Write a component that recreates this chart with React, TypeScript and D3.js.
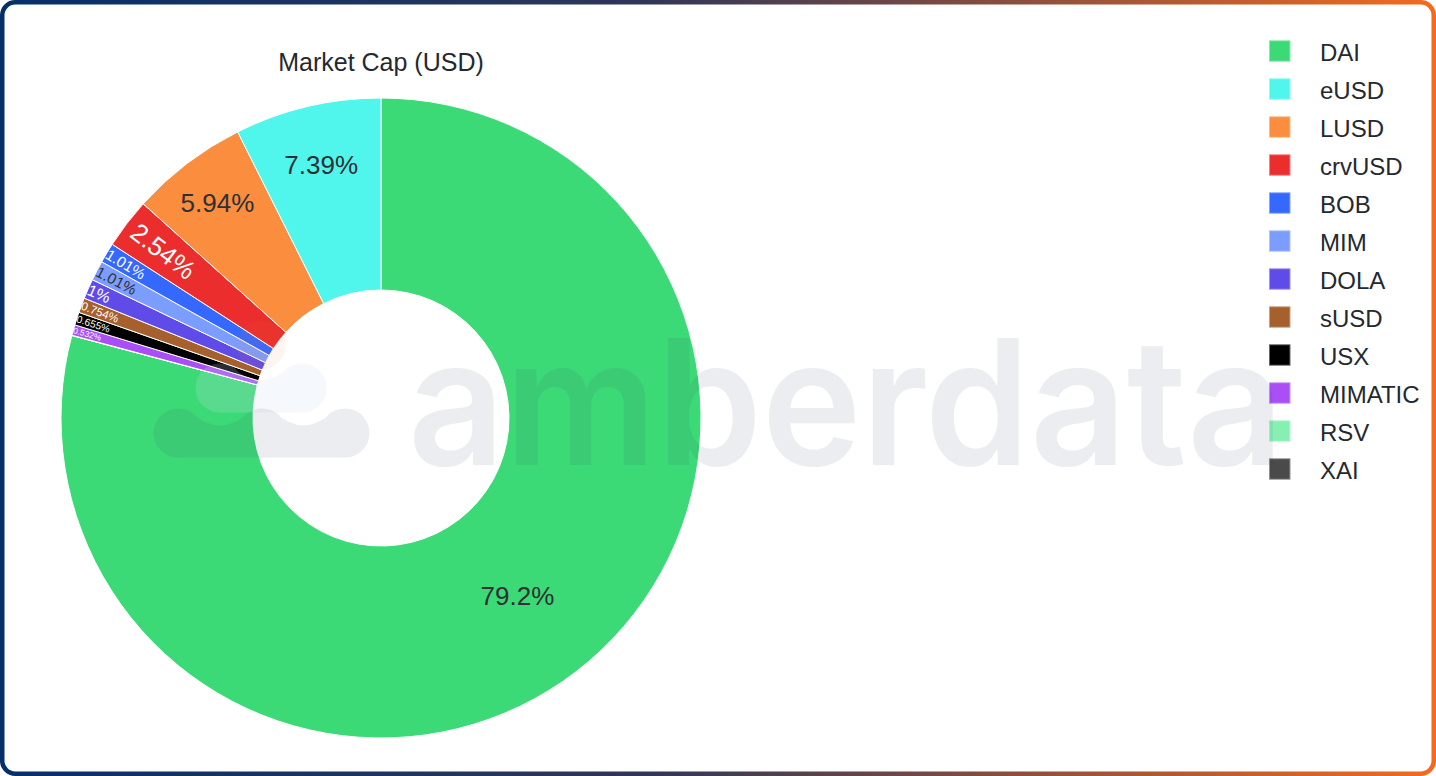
import React, { useMemo } from 'react';
import * as d3 from 'd3';

// ---------- data ----------
const categories = ['DAI', 'eUSD', 'LUSD', 'crvUSD', 'BOB', 'MIM', 'DOLA', 'sUSD', 'USX', 'MIMATIC', 'RSV', 'XAI'];
const marketCapShare = [79.15, 7.39, 5.94, 2.54, 1.012, 1.008, 1.002, 0.754, 0.655, 0.532, 0.01, 0.004];
const sliceColors = ['#3cd977', '#50f5ec', '#fb8d3e', '#eb2d2e', '#3468ff', '#7b9dff', '#5f4be8', '#a5602e', '#000000', '#a94ff5', '#86f0b2', '#4a4a4a'];
const chartTitle = 'Market Cap (USD)';
const watermarkText = 'amberdata';

// ---------- layout ----------
const W = 1436;
const H = 776;
const CX = 381;
const CY = 418;
const R = 320;
const HOLE = 0.4;
const FONT = '"Liberation Sans", Arial, Helvetica, sans-serif';
const INSIDE_FONT = 26;
const TEXT_DARK = '#2f3033';
const LABEL_COLOR = '#242930';

type Datum = { name: string; value: number; color: string };

function isLight(c: string) {
  const rgb = d3.rgb(c);
  return (rgb.r * 299 + rgb.g * 587 + rgb.b * 114) / 1000 >= 128;
}

function calcMaxHalfSize(a: number, halfAngle: number, r: number, ring: number) {
  const q = a + 1 / (2 * Math.tan(halfAngle));
  return r * Math.min(1 / (Math.sqrt(q * q + 0.5) + q), ring / (Math.sqrt(a * a + ring / 2) + a));
}
function calcRCenter(a: number, b: number) {
  return Math.cos(b) - a * b;
}
function calcRotate(t: number) {
  return ((180 / Math.PI) * t + 720) % 180 - 90;
}

export default function App() {
  const model = useMemo(() => {
    const canvas = document.createElement('canvas');
    const ctx = canvas.getContext('2d') as CanvasRenderingContext2D;
    const measure = (s: string, size: number) => {
      ctx.font = `${size}px ${FONT}`;
      return ctx.measureText(s).width;
    };

    const items: Datum[] = categories.map((name, i) => ({ name, value: marketCapShare[i], color: sliceColors[i] }));
    const total = d3.sum(items, (d) => d.value);
    const ordered = [items[0], ...items.slice(1).reverse()];
    const pie = d3
      .pie<Datum>()
      .sort(null)
      .value((d) => d.value)
      .startAngle(0)
      .endAngle(2 * Math.PI);
    const arcs = pie(ordered);
    const arc = d3
      .arc<d3.PieArcDatum<Datum>>()
      .innerRadius(R * HOLE)
      .outerRadius(R);
    const fmt = d3.format('.3~r');
    const ring = 1 - HOLE;

    const slices = arcs.map((a) => {
      const label = fmt((a.data.value / total) * 100) + '%';
      const tw = measure(label, INSIDE_FONT);
      const th = INSIDE_FONT * 1.15;
      const half = (a.endAngle - a.startAngle) / 2;
      const mid = (a.startAngle + a.endAngle) / 2;
      const rIns = Math.min(1 / (1 + 1 / Math.sin(half)), ring / 2);
      let best = { scale: (rIns * R * 2) / Math.hypot(tw, th), rCenter: 1 - rIns, rotate: 0 };
      if (best.scale < 1) {
        const aT = th / tw;
        const sT = calcMaxHalfSize(aT, half, R, ring);
        const tan = { scale: (sT * 2) / tw, rCenter: calcRCenter(aT, sT / R), rotate: calcRotate(mid + Math.PI / 2) };
        const aR = tw / th;
        const sR = calcMaxHalfSize(aR, half, R, ring);
        const rad = { scale: (sR * 2) / th, rCenter: calcRCenter(aR, sR / R), rotate: calcRotate(mid) };
        [tan, rad].forEach((t) => {
          if (t.scale > best.scale) best = t;
        });
      }
      const scale = Math.min(best.scale, 1);
      const rr = R * best.rCenter;
      return {
        key: a.data.name,
        path: arc(a) as string,
        color: a.data.color,
        label,
        fontSize: INSIDE_FONT * scale,
        x: CX + rr * Math.sin(mid),
        y: CY - rr * Math.cos(mid),
        rotate: best.rotate,
        textColor: isLight(a.data.color) ? TEXT_DARK : '#ffffff',
      };
    });
    return { slices, items };
  }, []);

  // legend layout
  const legendX = 1268;
  const legendY0 = 51;
  const legendStep = 38;
  const sq = 21.5;

  // watermark logo geometry (decoration)
  const lr = 24.5;
  const neck = (x1: number, x2: number, y: number) => {
    const m = (x1 + x2) / 2;
    return `M${x1 + lr * 0.5},${y - lr * 0.866} Q${m},${y + 6} ${x2 - lr * 0.5},${y - lr * 0.866} L${x2},${y + lr} L${x1},${y + lr} Z`;
  };
  const grayRow = [178, 262, 345];
  const lightRow = [220, 302];

  return (
    <svg
      width={W}
      height={H}
      style={{ position: 'fixed', left: 0, top: 0, background: '#ffffff' }}
      fontFamily={FONT}
    >
      <defs>
        <linearGradient id="borderGrad" x1="0" y1="0" x2="1" y2="0">
          <stop offset="0" stopColor="#062f6a" />
          <stop offset="0.45" stopColor="#2f3658" />
          <stop offset="1" stopColor="#f36b20" />
        </linearGradient>
      </defs>
      <rect x={0} y={0} width={W} height={H} fill="#ffffff" />

      {/* pie */}
      <g>
        {model.slices.map((s) => (
          <path key={s.key} d={s.path} transform={`translate(${CX},${CY})`} fill={s.color} stroke="#ffffff" strokeWidth={1} />
        ))}
        {model.slices
          .filter((s) => s.fontSize >= 3)
          .map((s) => (
            <text
              key={'t' + s.key}
              transform={`translate(${s.x},${s.y}) rotate(${s.rotate})`}
              textAnchor="middle"
              dy="0.35em"
              fontSize={s.fontSize}
              fill={s.textColor}
            >
              {s.label}
            </text>
          ))}
      </g>

      {/* title */}
      <text x={CX} y={71} textAnchor="middle" fontSize={25} fill={LABEL_COLOR}>
        {chartTitle}
      </text>

      {/* legend */}
      <g>
        {model.items.map((d, i) => {
          const cy = legendY0 + i * legendStep;
          return (
            <g key={d.name}>
              <rect
                x={legendX + 1}
                y={cy - sq / 2}
                width={sq}
                height={sq}
                fill={d.color}
                stroke="rgba(255,255,255,0.4)"
                strokeWidth={2}
              />
              <text x={1320} y={cy + 9.8} fontSize={24} fill={LABEL_COLOR}>
                {d.name}
              </text>
            </g>
          );
        })}
      </g>

      {/* watermark */}
      <g pointerEvents="none">
        <g opacity={0.08}>
          <circle cx={261} cy={345} r={lr} fill="#f5822a" />
        </g>
        <g opacity={0.2}>
          {lightRow.map((x) => (
            <circle key={'l' + x} cx={x} cy={388} r={lr} fill="#d2e0f2" />
          ))}
          <path d={neck(lightRow[0], lightRow[1], 388)} fill="#d2e0f2" />
        </g>
        <g opacity={0.09}>
          {grayRow.map((x) => (
            <circle key={'g' + x} cx={x} cy={433} r={lr} fill="#3c4664" />
          ))}
          <path d={neck(grayRow[0], grayRow[1], 433)} fill="#3c4664" />
          <path d={neck(grayRow[1], grayRow[2], 433)} fill="#3c4664" />
          <text
            x={408}
            y={465}
            fontFamily="Inter, 'Noto Sans', sans-serif"
            fontWeight={600}
            fontSize={175}
            textLength={876}
            lengthAdjust="spacingAndGlyphs"
            fill="#3c4664"
          >
            {watermarkText}
          </text>
        </g>
      </g>

      {/* border */}
      <rect x={2.25} y={2.25} width={W - 4.5} height={H - 4.5} rx={13} ry={13} fill="none" stroke="url(#borderGrad)" strokeWidth={4.5} />
    </svg>
  );
}
